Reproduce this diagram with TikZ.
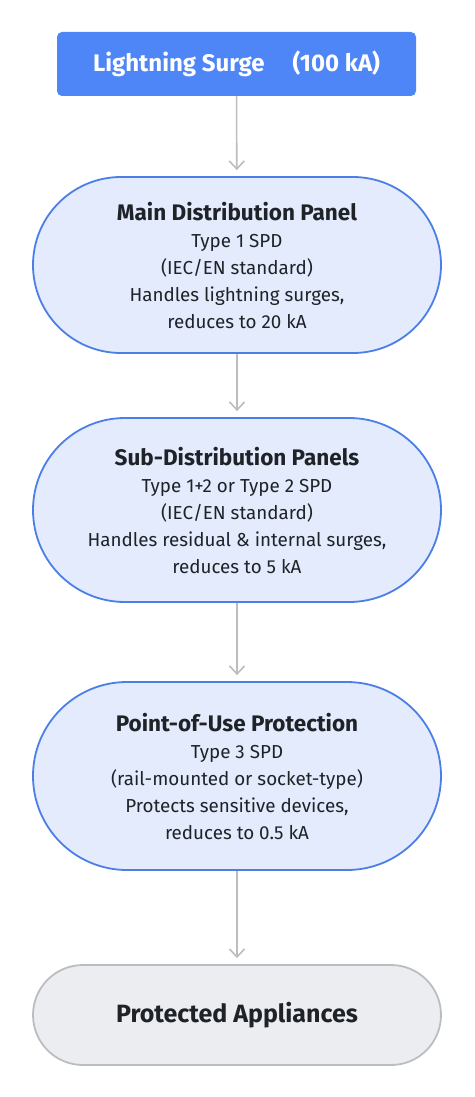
\documentclass[tikz,border=0pt]{standalone}
\usepackage{fontspec}
\setmainfont{Fira Sans}
\usetikzlibrary{arrows.meta}

\definecolor{surgeblue}{HTML}{4F86F7}
\definecolor{panelfill}{HTML}{E3EBFD}
\definecolor{paneledge}{HTML}{4C7FE6}
\definecolor{loadfill}{HTML}{ECEDF0}
\definecolor{loadedge}{HTML}{BBBDC1}
\definecolor{flowgray}{HTML}{BDBDBD}
\definecolor{inkdark}{HTML}{1F2328}

\tikzset{
  surgebox/.style={fill=surgeblue, rounded corners=5pt, minimum width=359pt,
    minimum height=64pt, text=white, font=\fontsize{24}{28}\selectfont\bfseries},
  panel/.style={draw=paneledge, fill=panelfill, line width=1.8pt,
    minimum width=408pt, minimum height=2*#1, rounded corners=#1,
    align=center, text=inkdark, font=\fontsize{18.8}{27}\selectfont},
  loadbox/.style={draw=loadedge, fill=loadfill, line width=1.8pt,
    minimum width=408pt, minimum height=100pt, rounded corners=50pt,
    text=inkdark, font=\fontsize{25}{28}\selectfont\bfseries},
  flow/.style={->, draw=flowgray, line width=1.6pt, shorten >=6pt}
}

\begin{document}
\begin{tikzpicture}[x=1pt,y=-1pt,>={Straight Barb[length=8pt,width=15pt]}]
  \useasboundingbox (0,0) rectangle (474,1097);

  \node[surgebox] (surge) at (236.5,64) {Lightning Surge\hspace{28pt}(100 kA)};

  \node[panel=88pt] (mdp) at (237,265) {%
    {\bfseries\fontsize{22.5}{27}\selectfont Main Distribution Panel}\\
    Type 1 SPD\\
    (IEC/EN standard)\\
    Handles lightning surges,\\
    reduces to 20 kA};

  \node[panel=92pt] (sdp) at (237,510) {%
    {\bfseries\fontsize{22.5}{27}\selectfont Sub-Distribution Panels}\\
    Type 1+2 or Type 2 SPD\\
    (IEC/EN standard)\\
    Handles residual \& internal surges,\\
    reduces to 5 kA};

  \node[panel=94pt] (pou) at (237,776) {%
    {\bfseries\fontsize{22.5}{27}\selectfont Point-of-Use Protection}\\
    Type 3 SPD\\
    (rail-mounted or socket-type)\\
    Protects sensitive devices,\\
    reduces to 0.5 kA};

  \node[loadbox] (load) at (237,1015) {Protected Appliances};

  \draw[flow] (surge) -- (mdp);
  \draw[flow] (mdp) -- (sdp);
  \draw[flow] (sdp) -- (pou);
  \draw[flow] (pou) -- (load);

\end{tikzpicture}
\end{document}
